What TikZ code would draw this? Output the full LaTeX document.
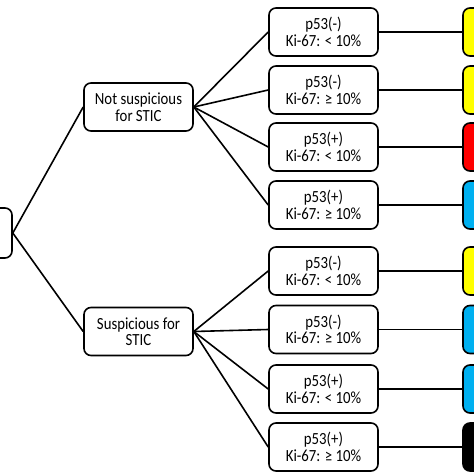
\documentclass[tikz,border=0pt]{standalone}
\usepackage{fontspec}
\setmainfont{Carlito}[FakeStretch = 0.87]
\usepackage{tikz}

\definecolor{yel}{RGB}{255,255,0}
\definecolor{rd}{RGB}{255,0,0}
\definecolor{blu}{RGB}{0,176,240}

\begin{document}
\begin{tikzpicture}[x = 1pt, y = -1pt, line width = 1.6pt,
                        box/.style = {draw, rounded corners = 7pt, fill = white, align = center,
                                      minimum width = 109pt, minimum height = 48pt, inner sep = 1pt,
                                      font = \fontsize{17}{16.5}\selectfont},
                        tag/.style = {draw, rounded corners = 7pt, minimum width = 40pt, minimum height = 48pt}]
      \useasboundingbox (0, 0) rectangle (474, 474);
      \clip (0, 0) rectangle (474, 474);

      \node [box, minimum width = 52pt, minimum height = 50pt] (r) at (-14, 233){};
      \node [box] (ns) at (138.5, 107){Not suspicious\\for STIC};
      \node [box] (su) at (138.5, 331.5){Suspicious for\\STIC};

      \node [box] (p1) at (323.5, 32){p53(-)\\Ki-67: < 10\%};
      \node [box] (p2) at (323.5, 90){p53(-)\\Ki-67: ≥ 10\%};
      \node [box] (p3) at (323.5, 147){p53(+)\\Ki-67: < 10\%};
      \node [box] (p4) at (323.5, 205){p53(+)\\Ki-67: ≥ 10\%};
      \node [box] (p5) at (323.5, 271){p53(-)\\Ki-67: < 10\%};
      \node [box] (p6) at (323.5, 329.5){p53(-)\\Ki-67: ≥ 10\%};
      \node [box] (p7) at (323.5, 389){p53(+)\\Ki-67: < 10\%};
      \node [box] (p8) at (323.5, 447){p53(+)\\Ki-67: ≥ 10\%};

      \node [tag, fill = yel] (c1) at (483, 32){};
      \node [tag, fill = yel] (c2) at (483, 90){};
      \node [tag, fill = rd] (c3) at (483, 147){};
      \node [tag, fill = blu] (c4) at (483, 205){};
      \node [tag, fill = yel] (c5) at (483, 271){};
      \node [tag, fill = blu] (c6) at (483, 329.5){};
      \node [tag, fill = blu] (c7) at (483, 389){};
      \node [tag, fill = black] (c8) at (483, 447){};

      \draw (r.east) -- (ns.west);
      \draw (r.east) -- (su.west);
      \foreach \i in {1, 2, 3, 4}
        \draw (ns.east) -- (p\i.west);
      \foreach \i in {5, 6, 7, 8}
        \draw (su.east) -- (p\i.west);
      \foreach \i in {1, ..., 8}
        \draw (p\i.east) -- (c\i.west);

      \end{tikzpicture}
\end{document}
